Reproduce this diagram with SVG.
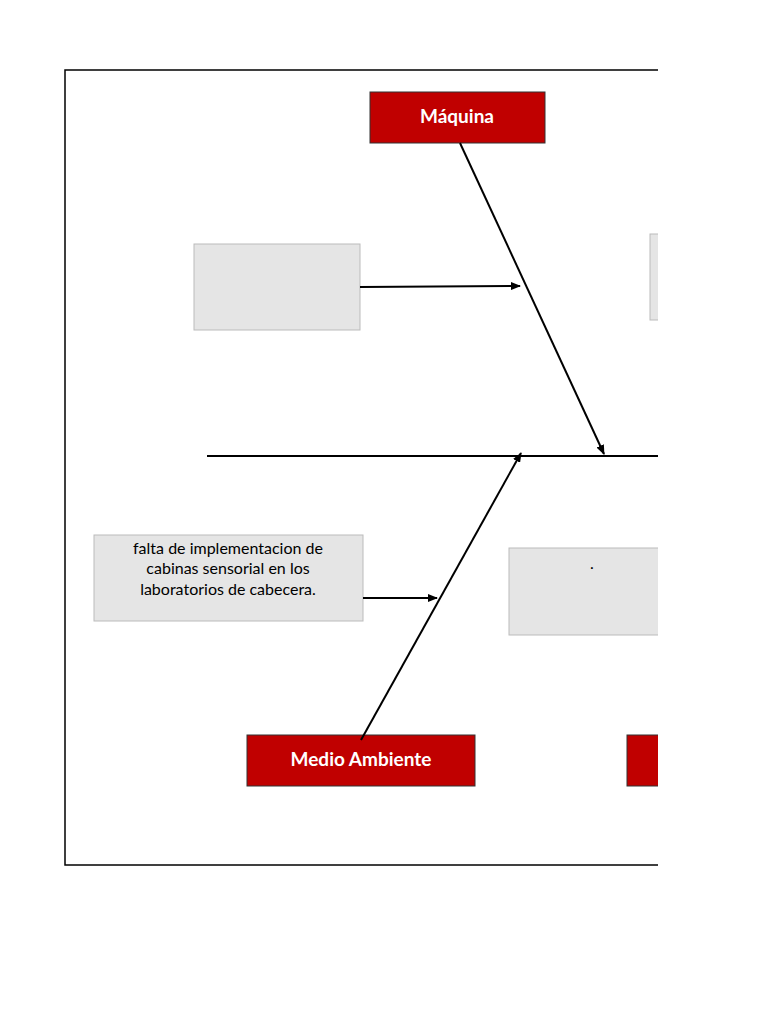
<svg xmlns="http://www.w3.org/2000/svg" width="768" height="1024" viewBox="0 0 768 1024">
<defs>
<marker id="ah" markerWidth="10" markerHeight="8" refX="9" refY="4" orient="auto" markerUnits="userSpaceOnUse"><path d="M0,0 L10,4 L0,8 Z" fill="#000"/></marker>
<clipPath id="c"><rect x="0" y="0" width="658" height="1024"/></clipPath>
</defs>
<style>
.cat{fill:#c00000;stroke:#333;stroke-width:1}
.cause{fill:#e5e5e5;stroke:#bbb;stroke-width:1}
.ct{font-family:"Lato","Liberation Sans",sans-serif;font-weight:bold;font-size:19px;fill:#fff;text-anchor:middle}
.tx{font-family:"Lato","Liberation Sans",sans-serif;font-size:16px;fill:#000;text-anchor:middle}
.ln{stroke:#000;stroke-width:2;fill:none}
</style>
<rect width="768" height="1024" fill="#fff"/>
<g clip-path="url(#c)">
<rect x="65" y="70" width="700" height="795" fill="none" stroke="#000" stroke-width="1.5"/>
<g id="maquina"><rect class="cat" x="370" y="92" width="175" height="51"/><text class="ct" x="457" y="123">Máquina</text></g>
<g id="medio"><rect class="cat" x="247" y="735" width="228" height="51"/><text class="ct" x="361" y="766">Medio Ambiente</text></g>
<g id="cat3"><rect class="cat" x="627" y="735" width="100" height="51"/></g>
<g id="c1"><rect class="cause" x="194" y="244" width="166" height="86"/></g>
<g id="c2"><rect class="cause" x="650" y="234" width="100" height="86"/></g>
<g id="c3"><rect class="cause" x="94" y="535" width="269" height="86"/>
<text class="tx" x="228" y="554">falta  de  implementacion de</text>
<text class="tx" x="228" y="574">cabinas sensorial en los</text>
<text class="tx" x="228" y="595">laboratorios de cabecera.</text></g>
<g id="c4"><rect class="cause" x="509" y="548" width="200" height="87"/><text class="tx" x="592" y="569">.</text></g>
<g id="connectors">
<line class="ln" x1="207" y1="456" x2="660" y2="456"/>
<line class="ln" x1="460" y1="143" x2="604" y2="454" marker-end="url(#ah)"/>
<line class="ln" x1="360" y1="287" x2="520" y2="286" marker-end="url(#ah)"/>
<line class="ln" x1="361" y1="740" x2="521" y2="453" marker-end="url(#ah)"/>
<line class="ln" x1="363" y1="598" x2="437" y2="598" marker-end="url(#ah)"/>
</g>
</g>
</svg>
